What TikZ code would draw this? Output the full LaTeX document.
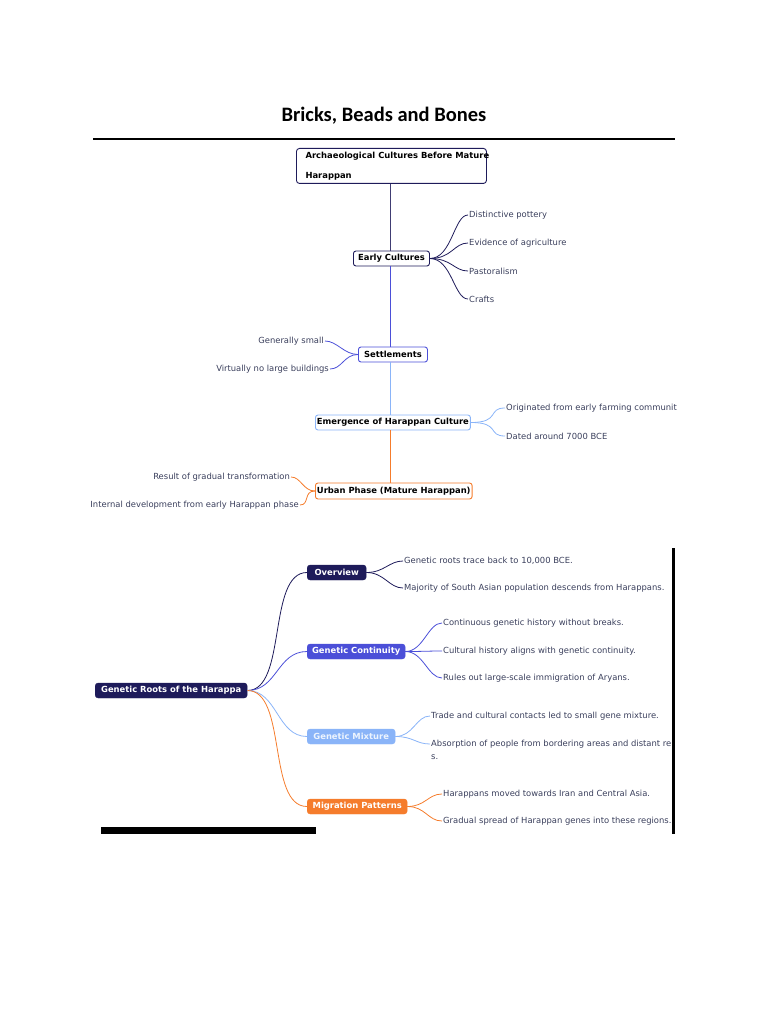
\documentclass[tikz,border=0pt]{standalone}
\usepackage{fontspec}
\setmainfont{DejaVu Sans}
\newfontfamily\titlefont{Carlito}
\definecolor{navy}{HTML}{1E1B5A}
\definecolor{midblue}{HTML}{4B4FD8}
\definecolor{lightblue}{HTML}{8AB4F8}
\definecolor{orangeb}{HTML}{F57C2C}
\definecolor{textgray}{HTML}{3A3F5C}
\tikzset{
  topic/.style={draw=#1, rounded corners=2.5pt, line width=0.9pt, fill=white, inner xsep=1.5pt, inner ysep=2pt, font=\fontsize{8.4}{9}\selectfont\bfseries, anchor=west},
  solid topic/.style={fill=#1, draw=#1, rounded corners=3pt, inner xsep=1.5pt, inner ysep=2pt, minimum height=15pt, text=white, font=\fontsize{8.4}{9}\selectfont\bfseries, anchor=west},
  leaf/.style={text=textgray, inner sep=1pt, font=\fontsize{8.4}{9}\selectfont},
  branch/.style={draw=#1, line width=0.8pt}
}
\begin{document}
\begin{tikzpicture}[x=1pt,y=-1pt]
	\useasboundingbox (0,0) rectangle (768,1024);
	%title
	\node[font=\titlefont\fontsize{20.5}{22}\selectfont\bfseries] (title) at (384,116) {Bricks, Beads and Bones};
	\draw[line width=1.4pt] (93,139) -- (675,139);

	%upper chart: vertical chain
	\node[draw=navy, rounded corners=3pt, line width=0.9pt, minimum width=190pt, minimum height=35pt, anchor=north west] (arch) at (296,148) {};
	\node[anchor=west, font=\fontsize{8.4}{9}\selectfont\bfseries] (archA) at (302,156) {Archaeological Cultures Before Mature};
	\node[anchor=west, font=\fontsize{8.4}{9}\selectfont\bfseries] (archB) at (302,176) {Harappan};
	\node[topic=navy, minimum width=76pt, minimum height=15pt] (early) at (353,258.5) {Early Cultures};
	\node[topic=midblue, minimum width=69pt, minimum height=15pt] (settle) at (358,354.5) {Settlements};
	\node[topic=lightblue, minimum width=102pt, minimum height=15pt] (emerge) at (315,422.5) {Emergence of Harappan Culture};
	\node[topic=orangeb, minimum width=103pt, minimum height=16pt] (urban) at (315,491) {Urban Phase (Mature Harappan)};

	\coordinate (spine) at (390,0);
	\draw[branch=navy!85] (arch.south -| spine) -- (early.north -| spine);
	\draw[branch=midblue] (early.south -| spine) -- (settle.north -| spine);
	\draw[branch=lightblue] (settle.south -| spine) -- (emerge.north -| spine);
	\draw[branch=orangeb] (emerge.south -| spine) -- (urban.north -| spine);

	%early cultures
	\foreach \t [count=\i] in {Distinctive pottery, Evidence of agriculture, Pastoralism, Crafts} {
		\node[leaf, anchor=west] (ec\i) at (468,{215+28*(\i-1)}) {\t};
		\draw[branch=navy] (early.east) .. controls +(22,0) and +(-14,0) .. (ec\i.west);
	}
	%settlements
	\node[leaf, anchor=east] (st1) at (325,341) {Generally small};
	\node[leaf, anchor=east] (st2) at (330,369) {Virtually no large buildings};
	\foreach \i in {1,2}
		\draw[branch=midblue] (settle.west) .. controls +(-14,0) and +(12,0) .. (st\i.east);
	%emergence
	\node[leaf, anchor=west] (em1) at (505,408) {Originated from early farming communit};
	\node[leaf, anchor=west] (em2) at (505,436) {Dated around 7000 BCE};
	\foreach \i in {1,2}
		\draw[branch=lightblue] (emerge.east) .. controls +(30,0) and +(-18,0) .. (em\i.west);
	%urban
	\node[leaf, anchor=east] (ub1) at (291,477) {Result of gradual transformation};
	\node[leaf, anchor=east] (ub2) at (300,505) {Internal development from early Harappan phase};
	\foreach \i in {1,2}
		\draw[branch=orangeb] (urban.west) .. controls +(-12,0) and +(10,0) .. (ub\i.east);

	%lower chart
	\node[solid topic=navy, minimum width=152pt] (gen) at (95,690.5) {Genetic Roots of the Harappa};
	\node[solid topic=navy, minimum width=59pt] (over) at (307,572.5) {Overview};
	\node[solid topic=midblue, minimum width=98pt] (cont) at (307,651.5) {Genetic Continuity};
	\node[solid topic=lightblue, minimum width=88pt, text=white!85!lightblue] (mix) at (307,736.5) {Genetic Mixture};
	\node[solid topic=orangeb, minimum width=100pt] (migr) at (307,806.5) {Migration Patterns};

	\draw[branch=navy] (gen.east) .. controls +(40,0) and +(-40,0) .. (over.west);
	\draw[branch=midblue] (gen.east) .. controls +(30,0) and +(-30,0) .. (cont.west);
	\draw[branch=lightblue] (gen.east) .. controls +(30,0) and +(-30,0) .. (mix.west);
	\draw[branch=orangeb] (gen.east) .. controls +(40,0) and +(-40,0) .. (migr.west);

	%overview
	\node[leaf, anchor=west] (ov1) at (403,561) {Genetic roots trace back to 10,000 BCE.};
	\node[leaf, anchor=west] (ov2) at (403,588) {Majority of South Asian population descends from Harappans.};
	\foreach \i in {1,2}
		\draw[branch=navy] (over.east) .. controls +(18,0) and +(-14,0) .. (ov\i.west);
	%continuity
	\node[leaf, anchor=west] (gc1) at (442,623) {Continuous genetic history without breaks.};
	\node[leaf, anchor=west] (gc2) at (442,651) {Cultural history aligns with genetic continuity.};
	\node[leaf, anchor=west] (gc3) at (442,678) {Rules out large-scale immigration of Aryans.};
	\foreach \i in {1,2,3}
		\draw[branch=midblue] (cont.east) .. controls +(18,0) and +(-14,0) .. (gc\i.west);
	%mixture
	\node[leaf, anchor=west] (gm1) at (430,716) {Trade and cultural contacts led to small gene mixture.};
	\node[leaf, anchor=west] (gm2) at (430,744) {Absorption of people from bordering areas and distant re};
	\node[leaf, anchor=west] (gm3) at (430,757) {s.};
	\foreach \i in {1,2}
		\draw[branch=lightblue] (mix.east) .. controls +(18,0) and +(-14,0) .. (gm\i.west);
	%migration
	\node[leaf, anchor=west] (mp1) at (442,794) {Harappans moved towards Iran and Central Asia.};
	\node[leaf, anchor=west] (mp2) at (442,821) {Gradual spread of Harappan genes into these regions.};
	\foreach \i in {1,2}
		\draw[branch=orangeb] (migr.east) .. controls +(18,0) and +(-14,0) .. (mp\i.west);

	%black bars
	\fill (671.5,548) rectangle (674.5,834);
	\fill (101,827) rectangle (316,834);
\end{tikzpicture}
\end{document}
